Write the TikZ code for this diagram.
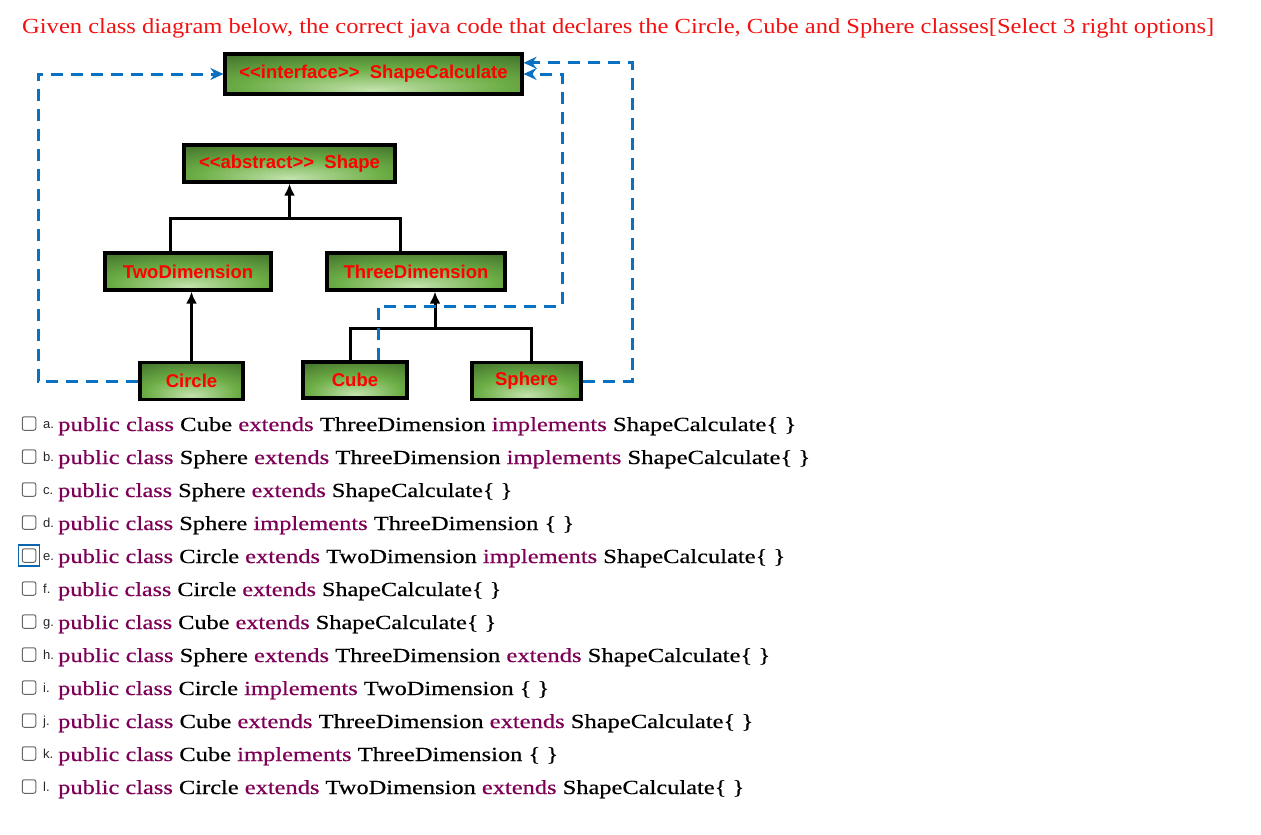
\documentclass[tikz,border=0pt]{standalone}
\usepackage{fontspec}
\usepackage{graphicx}
\setmainfont{Liberation Serif}
\setsansfont{Liberation Sans}
\newfontfamily\optfont[FakeBold=0.45]{Liberation Serif}
\usetikzlibrary{calc,shadows,arrows.meta}
\definecolor{gdark}{HTML}{3A6626}
\definecolor{gmid}{HTML}{6DAE46}
\definecolor{glight}{HTML}{C4E3AE}
\definecolor{depblue}{HTML}{0A70C2}
\definecolor{kwc}{HTML}{7E0056}
\definecolor{titlered}{HTML}{F21010}
\pgfdeclareradialshading{boxshade}{\pgfpoint{0bp}{-20bp}}{color(0bp)=(glight); color(22bp)=(gmid); color(48bp)=(gdark); color(100bp)=(gdark)}
\newcommand\kw[1]{\textcolor{kwc}{#1}}
\begin{document}
\begin{tikzpicture}[x=1pt,y=-1pt,
  cls/.style={draw=black, line width=3.2pt, shading=boxshade, inner sep=0pt,
    font=\fontsize{18.5}{20}\sffamily\bfseries, text=red,
    drop shadow={opacity=0.25, shadow xshift=1.5pt, shadow yshift=-1.5pt}},
  tree/.style={draw=black, line width=3pt},
  inh/.style={tree, -{Latex[length=12pt,width=11pt]}},
  dep/.style={draw=depblue, line width=3pt, dash pattern=on 12pt off 8pt, -{Stealth[length=13pt,width=12pt]}},
  cbox/.style={draw=black!60, line width=1pt, rounded corners=2pt, minimum width=13.5pt, minimum height=13.5pt, inner sep=0pt, fill=white},
  lbl/.style={anchor=base west, inner sep=0pt, font=\fontsize{13}{14}\sffamily, text=black!85},
  opt/.style={anchor=base west, inner sep=0pt, font=\fontsize{20}{22}\optfont},
]
\useasboundingbox (0,0) rectangle (1261,835);

% title
\node[anchor=base west, inner sep=0pt, text=titlered, font=\fontsize{21.5}{24}\selectfont] (title) at (22,33)
  {\resizebox{1192pt}{\height}{Given class diagram below, the correct java code that declares the Circle, Cube and Sphere classes[Select 3 right options]}};

% class boxes
\node[cls, minimum width=297pt, minimum height=40pt] (sc) at (373.5,74) {{<}{<}interface{>}{>}\ \ ShapeCalculate};
\node[cls, minimum width=211pt, minimum height=37pt] (shape) at (289.5,163.5) {{<}{<}abstract{>}{>}\ \ Shape};
\node[cls, minimum width=166pt, minimum height=37pt] (tw) at (188,271.5) {TwoDimension};
\node[cls, minimum width=178pt, minimum height=37pt] (th) at (416,271.5) {ThreeDimension};
\node[cls, minimum width=103pt, minimum height=37pt] (circle) at (191.5,381) {Circle};
\node[cls, minimum width=104pt, minimum height=36pt] (cube) at (355,380) {Cube};
\node[cls, minimum width=109pt, minimum height=37pt] (sphere) at (526.5,381) {Sphere};

% helper coordinates
\coordinate (tl) at (170,218);
\coordinate (tr) at (400,218);
\coordinate (bl) at (350,328);
\coordinate (br) at (531,328);
\coordinate (ba) at (435,328);
\coordinate (lx) at (38,75);
\coordinate (mid) at (562,306);
\coordinate (rx) at (632,378);
\coordinate (scr) at ($(sc.north east)!0.24!(sc.south east)$);
\coordinate (cubetop) at ($(cube.north west)!0.72!(cube.north east)$);

% inheritance tree
\draw[tree] (tw.north -| tl) |- (tr) -- (tr |- th.north);
\draw[inh] (shape.south |- tl) -- (shape.south);
\draw[inh] (circle.north) -- (circle.north |- tw.south);
\draw[tree] (cube.north -| bl) |- (br) -- (br |- sphere.north);
\draw[inh] (ba) -- (ba |- th.south);

% implementation (dashed)
\draw[dep] (circle.west) -- (circle.west -| lx) |- (sc.west);
\draw[dep] (cubetop) |- (mid) |- (sc.east);
\draw[dep] (sphere.east) -| (rx) |- (scr);

% options
\newcommand\optline[4]{%
  \node[cbox] (cb#2) at (29,{#1-7.5}) {};
  \node[lbl] (lb#2) at (43,{#1-3}) {#2.};
  \node[opt] (op#2) at (58,#1) {\resizebox{#3pt}{\height}{#4}};
}
\optline{431}{a}{738}{\kw{public class} Cube \kw{extends} ThreeDimension \kw{implements} ShapeCalculate\{ \}}
\optline{464}{b}{752}{\kw{public class} Sphere \kw{extends} ThreeDimension \kw{implements} ShapeCalculate\{ \}}
\optline{497}{c}{454}{\kw{public class} Sphere \kw{extends} ShapeCalculate\{ \}}
\optline{530}{d}{516}{\kw{public class} Sphere \kw{implements} ThreeDimension \{ \}}
\optline{563}{e}{727}{\kw{public class} Circle \kw{extends} TwoDimension \kw{implements} ShapeCalculate\{ \}}
\optline{596}{f}{443}{\kw{public class} Circle \kw{extends} ShapeCalculate\{ \}}
\optline{629}{g}{438}{\kw{public class} Cube \kw{extends} ShapeCalculate\{ \}}
\optline{662}{h}{712}{\kw{public class} Sphere \kw{extends} ThreeDimension \kw{extends} ShapeCalculate\{ \}}
\optline{695}{i}{491}{\kw{public class} Circle \kw{implements} TwoDimension \{ \}}
\optline{728}{j}{695}{\kw{public class} Cube \kw{extends} ThreeDimension \kw{extends} ShapeCalculate\{ \}}
\optline{761}{k}{500}{\kw{public class} Cube \kw{implements} ThreeDimension \{ \}}
\optline{794}{l}{686}{\kw{public class} Circle \kw{extends} TwoDimension \kw{extends} ShapeCalculate\{ \}}

% focus ring on option e
\node[draw=depblue!90!black, line width=1.8pt, minimum width=21pt, minimum height=21pt, inner sep=0pt] (focus) at (cbe.center) {};
\end{tikzpicture}
\end{document}
